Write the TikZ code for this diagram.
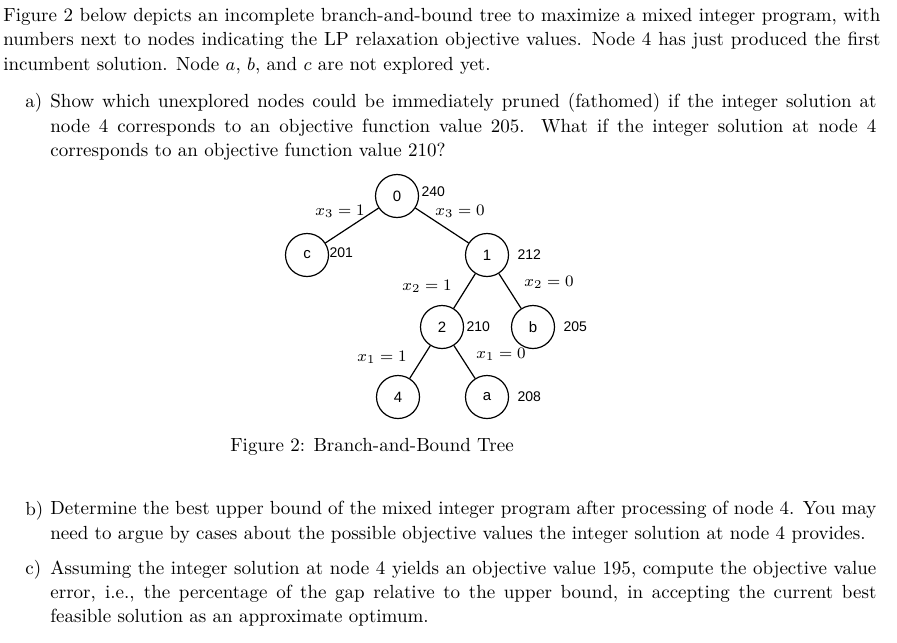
\documentclass[tikz,border=0pt]{standalone}
\usepackage{fontspec}
\newfontfamily\arl{Liberation Sans}
\begin{document}
\begin{tikzpicture}[x=0.5pt,y=-0.5pt,
  bb/.style={circle,draw,line width=0.6pt,minimum size=21.5pt,inner sep=0pt,font=\arl\fontsize{7.5}{9}\selectfont},
  val/.style={font=\arl\fontsize{7}{8}\selectfont,inner sep=1pt},
  el/.style={font=\fontsize{8}{9}\selectfont,inner sep=1pt},
  par/.style={anchor=north west,inner sep=0pt,align=justify,font=\fontsize{9.5}{12.2}\selectfont}]
\useasboundingbox (0,0) rectangle (897,642);
\node[par,text width=438.5pt] (p1) at (3,8) {Figure 2 below depicts an incomplete branch-and-bound tree to maximize a mixed integer program, with numbers next to nodes indicating the LP relaxation objective values. Node 4 has just produced the first incumbent solution. Node $a$, $b$, and $c$ are not explored yet.};
\node[par,anchor=north west] (la) at (25,93) {a)};
\node[par,text width=413pt] (pa) at (50,93) {Show which unexplored nodes could be immediately pruned (fathomed) if the integer solution at node 4 corresponds to an objective function value 205. What if the integer solution at node 4 corresponds to an objective function value 210?};
\node[par] (lb) at (25,501) {b)};
\node[par,text width=413pt] (pb) at (50,501) {Determine the best upper bound of the mixed integer program after processing of node 4. You may need to argue by cases about the possible objective values the integer solution at node 4 provides.};
\node[par] (lc) at (25,560) {c)};
\node[par,text width=413pt] (pc) at (50,560) {Assuming the integer solution at node 4 yields an objective value 195, compute the objective value error, i.e., the percentage of the gap relative to the upper bound, in accepting the current best feasible solution as an approximate optimum.};
\node[font=\fontsize{9.5}{12}\selectfont] (cap) at (372,447) {Figure 2: Branch-and-Bound Tree};
\node[bb] (n0) at (397,196) {0};
\node[bb] (nc) at (307,255) {c};
\node[bb] (n1) at (487,255) {1};
\node[bb] (n2) at (442,327) {2};
\node[bb] (nb) at (533,327) {b};
\node[bb] (n4) at (398,397) {4};
\node[bb] (na) at (487,397) {a};
\draw[line width=0.6pt] (n0)--(nc) (n0)--(n1) (n1)--(n2) (n1)--(nb) (n2)--(n4) (n2)--(na);
\node[val,anchor=west] (v0) at (n0.east) [yshift=2pt] {240};
\node[val,anchor=west] (vc) at (nc.east) [yshift=1pt,xshift=-1pt] {201};
\node[val,anchor=west] (v1) at (n1.east) [xshift=3pt] {212};
\node[val,anchor=west] (v2) at (n2.east) {210};
\node[val,anchor=west] (vb) at (nb.east) [xshift=3pt] {205};
\node[val,anchor=west] (va) at (na.east) [xshift=3pt] {208};
\node[el] (e1) at (340,211) {$x_3=1$};
\node[el] (e2) at (460,211) {$x_3=0$};
\node[el] (e3) at (427,286) {$x_2=1$};
\node[el] (e4) at (549,282) {$x_2=0$};
\node[el] (e5) at (382,357) {$x_1=1$};
\node[el] (e6) at (501,354) {$x_1=0$};
\end{tikzpicture}
\end{document}
